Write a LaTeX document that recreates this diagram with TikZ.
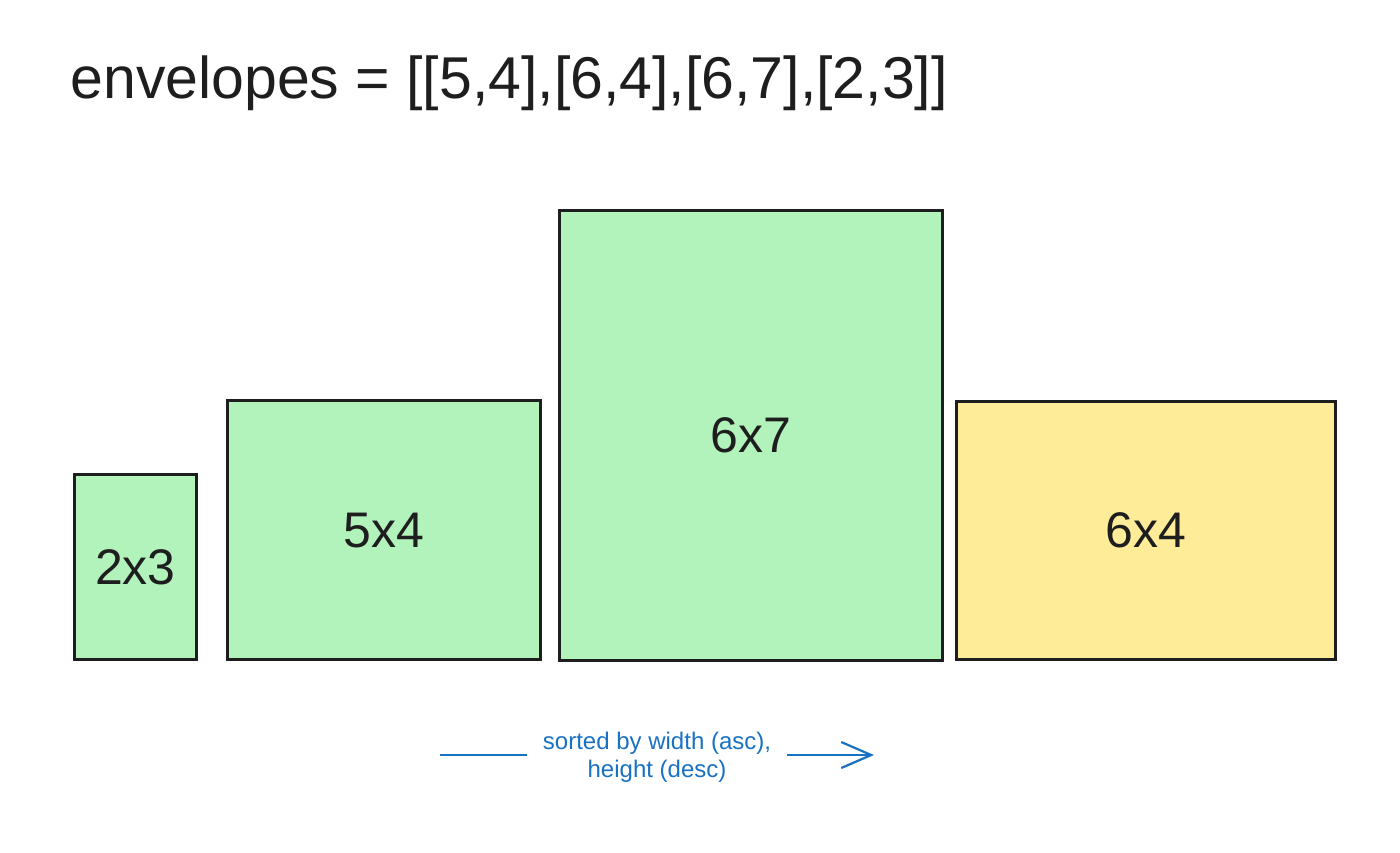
\documentclass[tikz,border=0pt]{standalone}
\usepackage{fontspec}
\setmainfont{Liberation Sans}
\usepackage{xcolor}
\usepackage{tikz}
\usetikzlibrary{positioning}
\usetikzlibrary{arrows.meta}

\definecolor{boxgreen}{HTML}{B2F2BB}
\definecolor{boxyellow}{HTML}{FFEC99}
\definecolor{inkblue}{HTML}{1971C2}
\definecolor{inkblack}{HTML}{1E1E1E}

\begin{document}
\begin{tikzpicture}[x=0.5pt, y=-0.5pt,
		envbox/.style={draw=inkblack, line width=1.4pt, anchor=south west, inner sep=0pt,
			font=\fontsize{25}{30}\selectfont, text=inkblack},
		sortline/.style={draw=inkblue, line width=1.1pt}]
		\useasboundingbox (0,0) rectangle (1400,852);

		% Input list
		\node[anchor=west, inner sep=0pt, text=inkblack, font=\fontsize{29.5}{35}\selectfont] (title) at (70,83)
			{envelopes = [[5,4],[6,4],[6,7],[2,3]]};

		% Envelopes after sorting
		\node[envbox, fill=boxgreen, minimum width=61pt, minimum height=92.5pt] (e23) at (73,661) {2x3};
		\node[envbox, fill=boxgreen, minimum width=156.5pt, minimum height=129.5pt] (e54) at (226,661) {5x4};
		\node[envbox, fill=boxgreen, minimum width=191.5pt, minimum height=225pt] (e67) at (558,662) {6x7};
		\node[envbox, fill=boxyellow, minimum width=189.5pt, minimum height=129pt] (e64) at (955,661) {6x4};

		% Sort order
		\coordinate (sortstart) at (440,755);
		\coordinate (sortend) at (874,755);
		\node[text=inkblue, align=center, minimum width=130pt, inner sep=0pt,
			font=\fontsize{12}{14}\selectfont] (sortlabel) at (657,757)
			{sorted by width (asc),\\height (desc)};

		\draw[sortline] (sortstart) -- (sortstart -| sortlabel.west);
		\draw[sortline, -{Straight Barb[length=15pt, width=13pt]}] (sortlabel.east |- sortstart) -- (sortend);
	\end{tikzpicture}
\end{document}
